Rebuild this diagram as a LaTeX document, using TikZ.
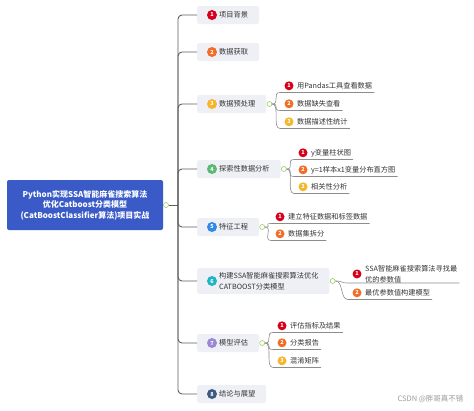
\documentclass[tikz,border=0pt]{standalone}
\usepackage{fontspec}
\setmainfont{Noto Sans CJK SC}
\usetikzlibrary{positioning}
\definecolor{rootblue}{HTML}{3A5BC7}
\definecolor{topicgrey}{HTML}{EEF0F5}
\definecolor{txt}{HTML}{333333}
\definecolor{linkgrey}{HTML}{8C8C8C}
\definecolor{trunkgrey}{HTML}{5E5E5E}
\definecolor{knobgreen}{HTML}{9CCB6B}
\definecolor{wmgrey}{HTML}{9A9A9A}
\definecolor{c1}{HTML}{D6001C}
\definecolor{c2}{HTML}{F06E28}
\definecolor{c3}{HTML}{F7B52C}
\definecolor{c4}{HTML}{5BB974}
\definecolor{c5}{HTML}{2E8AE6}
\definecolor{c6}{HTML}{1FB5C4}
\definecolor{c7}{HTML}{9A88D6}
\definecolor{c8}{HTML}{3D5A80}

\begin{document}
\begin{tikzpicture}[x=1pt, y=-1pt,
    root/.style={rectangle, fill=rootblue, rounded corners=2pt, text=white, font=\fontsize{8}{10.5}\selectfont\bfseries, align=center, minimum width=156pt, minimum height=50pt},
    topic/.style={rectangle, fill=topicgrey, rounded corners=2pt, anchor=west, align=left, inner xsep=11pt, inner ysep=4pt, minimum height=18pt, font=\fontsize{7.2}{11}\selectfont, text=txt},
    sub/.style={anchor=south west, align=left, inner xsep=2pt, inner ysep=0pt, minimum height=13pt, font=\fontsize{7.2}{11}\selectfont, text=txt},
    badge/.style={circle, fill=#1, inner sep=0pt, minimum size=9pt, text=white, font=\fontsize{5.5}{6}\selectfont\bfseries},
    knob/.style={circle, draw=knobgreen, fill=white, inner sep=0pt, minimum size=5pt, line width=0.6pt},
    link/.style={draw=linkgrey, line width=0.6pt},
    trunk/.style={draw=trunkgrey, line width=0.9pt, rounded corners=4pt}
]
\useasboundingbox (0,0) rectangle (474,410);

\node[root] (root) at (85,205) {Python实现SSA智能麻雀搜索算法\\优化Catboost分类模型\\(CatBoostClassifier算法)项目实战};
\node[knob] (rk) at (166,205) {};
\coordinate (hub) at (178,205);

\node[topic] (t1) at (197,15) {\hspace*{11pt}项目背景};
\node[topic] (t2) at (197,52) {\hspace*{11pt}数据获取};
\node[topic] (t3) at (197,104) {\hspace*{11pt}数据预处理};
\node[topic] (t4) at (197,169) {\hspace*{11pt}探索性数据分析};
\node[topic] (t5) at (197,227) {\hspace*{11pt}特征工程};
\node[topic] (t6) at (197,281) {\hspace*{11pt}构建SSA智能麻雀搜索算法优化\\\hspace*{11pt}CATBOOST分类模型};
\node[topic] (t7) at (197,343) {\hspace*{11pt}模型评估};
\node[topic] (t8) at (197,394) {\hspace*{11pt}结论与展望};

\node[badge=c1, minimum size=10pt] (n1) at ([xshift=15pt]t1.west) {1};
\node[badge=c2, minimum size=10pt] (n2) at ([xshift=15pt]t2.west) {2};
\node[badge=c3, minimum size=10pt] (n3) at ([xshift=15pt]t3.west) {3};
\node[badge=c4, minimum size=10pt] (n4) at ([xshift=15pt]t4.west) {4};
\node[badge=c5, minimum size=10pt] (n5) at ([xshift=15pt]t5.west) {5};
\node[badge=c6, minimum size=10pt] (n6) at ([xshift=15pt]t6.west) {6};
\node[badge=c7, minimum size=10pt] (n7) at ([xshift=15pt]t7.west) {7};
\node[badge=c8, minimum size=10pt] (n8) at ([xshift=15pt]t8.west) {8};

\node[knob] (k3) at ([xshift=3pt]t3.east) {};
\node[knob] (k4) at ([xshift=3pt]t4.east) {};
\node[knob] (k5) at ([xshift=3pt]t5.east) {};
\node[knob] (k6) at ([xshift=3pt]t6.east) {};
\node[knob] (k7) at ([xshift=3pt]t7.east) {};

\node[sub] (s31) at (280,92.5) {\hspace*{15pt}用Pandas工具查看数据};
\node[sub] (s32) at (280,110.5) {\hspace*{15pt}数据缺失查看};
\node[sub] (s33) at (280,128.5) {\hspace*{15pt}数据描述性统计};
\node[sub] (s41) at (294,159.5) {\hspace*{15pt}y变量柱状图};
\node[sub] (s42) at (294,176.5) {\hspace*{15pt}y=1样本x1变量分布直方图};
\node[sub] (s43) at (294,193.5) {\hspace*{15pt}相关性分析};
\node[sub] (s51) at (271,223.5) {\hspace*{15pt}建立特征数据和标签数据};
\node[sub] (s52) at (271,240.5) {\hspace*{15pt}数据集拆分};
\node[sub] (s61) at (348,283) {\hspace*{15pt}SSA智能麻雀搜索算法寻找最\\\hspace*{15pt}优的参数值};
\node[sub] (s62) at (348,299.5) {\hspace*{15pt}最优参数值构建模型};
\node[sub] (s71) at (273,332.5) {\hspace*{15pt}评估指标及结果};
\node[sub] (s72) at (273,349.5) {\hspace*{15pt}分类报告};
\node[sub] (s73) at (273,367.5) {\hspace*{15pt}混淆矩阵};

\node[badge=c1] (b31) at ([xshift=9pt]s31.west) {1};
\node[badge=c2] (b32) at ([xshift=9pt]s32.west) {2};
\node[badge=c3] (b33) at ([xshift=9pt]s33.west) {3};
\node[badge=c1] (b41) at ([xshift=9pt]s41.west) {1};
\node[badge=c2] (b42) at ([xshift=9pt]s42.west) {2};
\node[badge=c3] (b43) at ([xshift=9pt]s43.west) {3};
\node[badge=c1] (b51) at ([xshift=9pt]s51.west) {1};
\node[badge=c2] (b52) at ([xshift=9pt]s52.west) {2};
\node[badge=c1] (b61) at ([xshift=9pt]s61.west) {1};
\node[badge=c2] (b62) at ([xshift=9pt]s62.west) {2};
\node[badge=c1] (b71) at ([xshift=9pt]s71.west) {1};
\node[badge=c2] (b72) at ([xshift=9pt]s72.west) {2};
\node[badge=c3] (b73) at ([xshift=9pt]s73.west) {3};

\draw[link] (root) -- (rk);
\draw[trunk] (rk) -- (hub);
\draw[trunk] (hub) |- (t1);
\draw[trunk] (hub) |- (t2);
\draw[trunk] (hub) |- (t3);
\draw[trunk] (hub) |- (t4);
\draw[trunk] (hub) |- (t5);
\draw[trunk] (hub) |- (t6);
\draw[trunk] (hub) |- (t7);
\draw[trunk] (hub) |- (t8);

\draw[link] (k3.east) .. controls +(8,0) and +(-8,0) .. (s31.south west) -- (s31.south east);
\draw[link] (k3.east) .. controls +(8,0) and +(-8,0) .. (s32.south west) -- (s32.south east);
\draw[link] (k3.east) .. controls +(8,0) and +(-8,0) .. (s33.south west) -- (s33.south east);
\draw[link] (k4.east) .. controls +(8,0) and +(-8,0) .. (s41.south west) -- (s41.south east);
\draw[link] (k4.east) .. controls +(8,0) and +(-8,0) .. (s42.south west) -- (s42.south east);
\draw[link] (k4.east) .. controls +(8,0) and +(-8,0) .. (s43.south west) -- (s43.south east);
\draw[link] (k5.east) .. controls +(8,0) and +(-8,0) .. (s51.south west) -- (s51.south east);
\draw[link] (k5.east) .. controls +(8,0) and +(-8,0) .. (s52.south west) -- (s52.south east);
\draw[link] (k6.east) .. controls +(8,0) and +(-8,0) .. (s61.south west) -- (s61.south east);
\draw[link] (k6.east) .. controls +(8,0) and +(-8,0) .. (s62.south west) -- (s62.south east);
\draw[link] (k7.east) .. controls +(8,0) and +(-8,0) .. (s71.south west) -- (s71.south east);
\draw[link] (k7.east) .. controls +(8,0) and +(-8,0) .. (s72.south west) -- (s72.south east);
\draw[link] (k7.east) .. controls +(8,0) and +(-8,0) .. (s73.south west) -- (s73.south east);

\node[anchor=east, text=wmgrey, font=\fontsize{7.5}{9}\selectfont] (wm) at (467,399) {CSDN @胖哥真不错};
\end{tikzpicture}
\end{document}
